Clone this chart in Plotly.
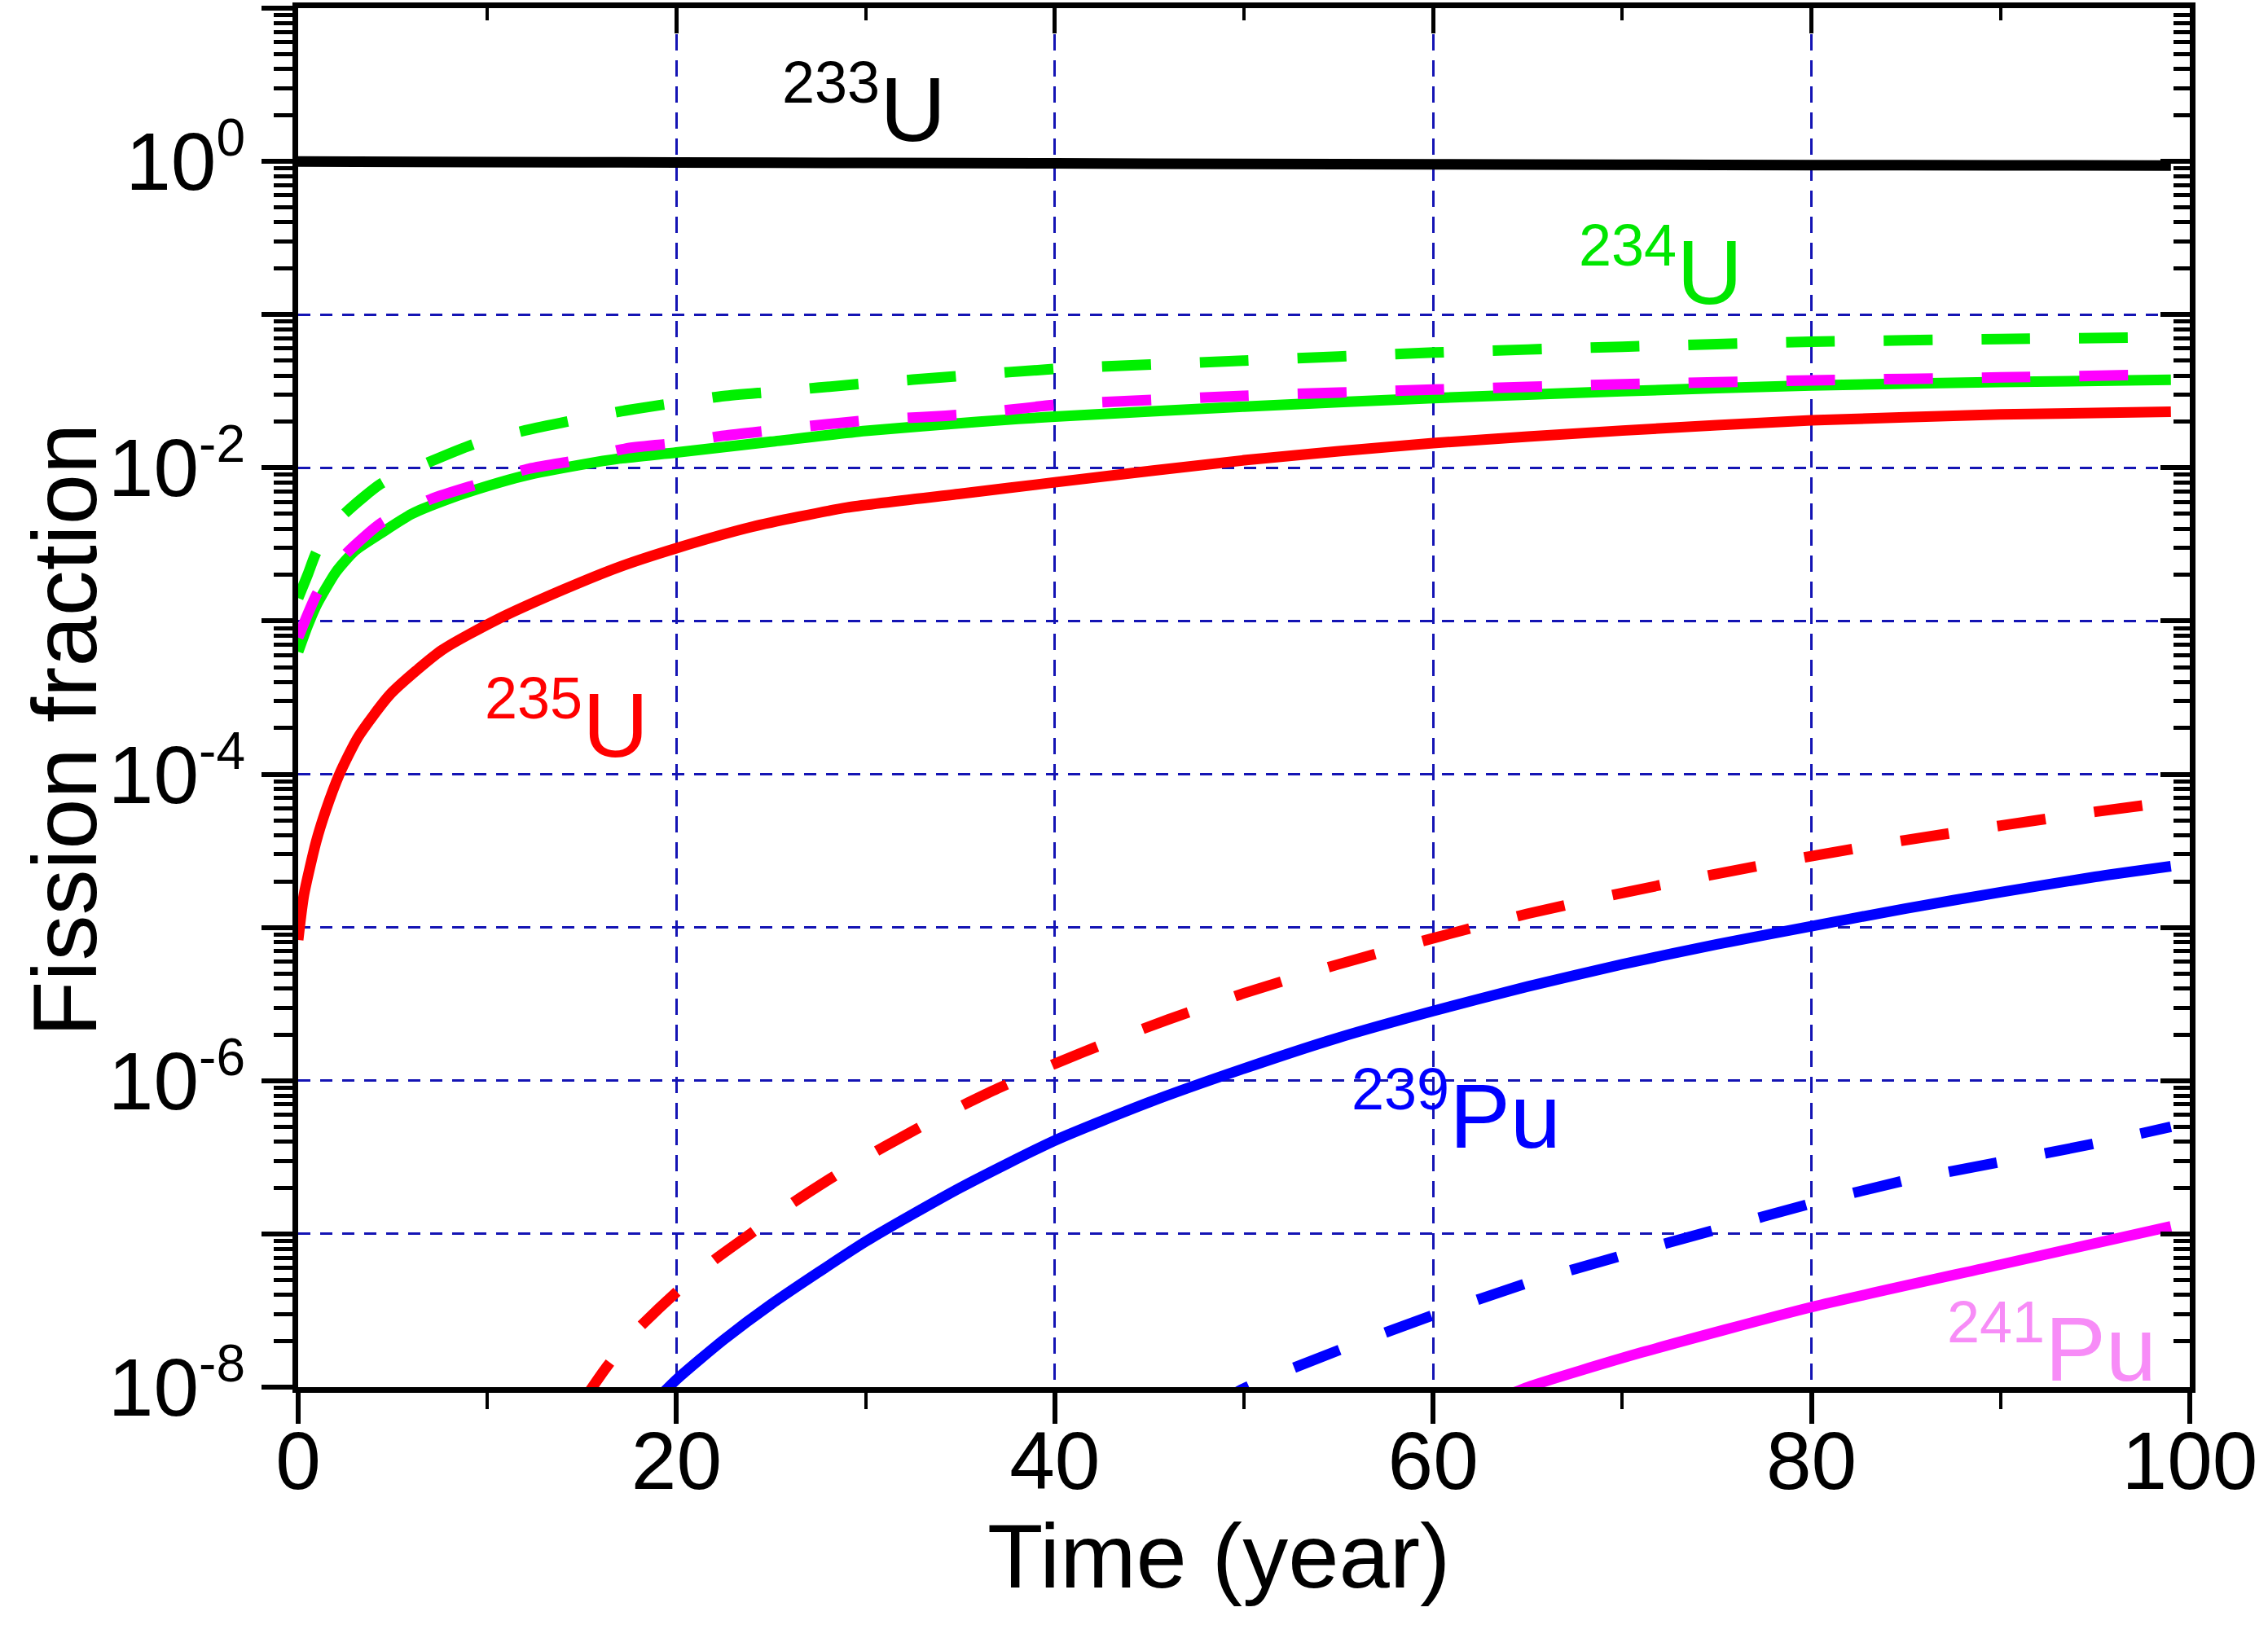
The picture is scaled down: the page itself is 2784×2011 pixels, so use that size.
import plotly.graph_objects as go

# ---------------- data ----------------
u233_x = [0, 10, 20, 30, 40, 50, 60, 70, 80, 90, 99]
u233_y = [0.999, 0.99, 0.984, 0.977, 0.970, 0.963, 0.957, 0.951, 0.946, 0.942, 0.939]

u234_x = [0, 0.5, 1, 2, 3, 4.4, 6, 8, 10, 12, 15, 17, 20, 25, 30, 36, 40, 50, 60, 70, 80, 90, 99]
u234_y = [6.3e-4, 9.3e-4, 1.29e-3, 2.09e-3, 2.88e-3, 3.76e-3, 5.0e-3, 6.3e-3, 7.6e-3, 8.9e-3,
          0.0105, 0.0115, 0.0126, 0.0148, 0.0174, 0.0200, 0.0216, 0.0251, 0.0285, 0.0316,
          0.0345, 0.0363, 0.0375]

u234d_x = [0, 0.5, 1, 2.3, 4.4, 7, 9.4, 12, 14.7, 17.3, 20, 22.5, 25, 30, 35, 40, 50, 60, 70, 80, 90, 99]
u234d_y = [1.41e-3, 2.0e-3, 2.88e-3, 4.8e-3, 7.9e-3, 0.0110, 0.01445, 0.01754, 0.0206, 0.02366,
           0.0266, 0.0294, 0.0313, 0.0355, 0.0398, 0.0442, 0.0501, 0.0565, 0.0617, 0.0665,
           0.0692, 0.0713]

pu241d_x = [0, 1, 2.3, 4.4, 7.1, 9.4, 12.1, 14.7, 17.3, 19.8, 22.5, 25, 27.7, 30.3, 32.9, 35.5,
            40, 50, 60, 70, 80, 90, 99]
pu241d_y = [7.8e-4, 1.51e-3, 2.57e-3, 4.37e-3, 6.3e-3, 7.76e-3, 9.8e-3, 0.0112, 0.01334, 0.01445,
            0.0162, 0.01754, 0.0191, 0.0205, 0.0214, 0.0224, 0.0257, 0.0295, 0.0324, 0.0351,
            0.0372, 0.0389, 0.0407]

u235_x = [0, 0.3, 0.94, 1.44, 2.18, 3.17, 4.9, 7.6, 10.5, 14, 17, 20, 24, 29, 35, 40, 50,
          60, 70, 80, 90, 99]
u235_y = [8.3e-6, 1.62e-5, 3.59e-5, 5.71e-5, 1.0e-4, 1.75e-4, 3.36e-4, 6.46e-4, 1.02e-3, 1.60e-3,
          2.26e-3, 2.99e-3, 4.12e-3, 5.50e-3, 6.76e-3, 8.04e-3, 0.0112, 0.0145, 0.0175, 0.0204,
          0.0223, 0.0232]

u235d_x = [15, 16.3, 17.8, 20, 22, 24, 26, 28.5, 31, 34, 37, 40, 43, 46, 50, 55, 60, 65, 70, 75,
           80, 85, 90, 95, 99]
u235d_y = [7.94e-9, 1.35e-8, 2.29e-8, 4.17e-8, 6.76e-8, 1.02e-7, 1.55e-7, 2.45e-7, 3.72e-7,
           5.89e-7, 8.91e-7, 1.29e-6, 1.82e-6, 2.51e-6, 3.72e-6, 5.75e-6, 8.51e-6, 1.23e-5,
           1.68e-5, 2.24e-5, 2.92e-5, 3.72e-5, 4.62e-5, 5.69e-5, 6.61e-5]

pu239_x = [18, 20, 22.5, 25, 30, 35, 40, 45, 50, 55, 60, 65, 70, 75, 80, 85, 90, 95, 99]
pu239_y = [6.31e-9, 1.12e-8, 2.04e-8, 3.47e-8, 8.91e-8, 2.0e-7, 4.07e-7, 7.24e-7, 1.20e-6,
           1.91e-6, 2.85e-6, 4.12e-6, 5.75e-6, 7.76e-6, 1.02e-5, 1.33e-5, 1.70e-5, 2.14e-5,
           2.51e-5]

pu239d_x = [48, 50, 55, 60, 65, 70, 75, 80, 85, 90, 95, 99]
pu239d_y = [7.1e-9, 9.8e-9, 1.74e-8, 2.95e-8, 4.79e-8, 7.24e-8, 1.07e-7, 1.58e-7, 2.24e-7,
            2.95e-7, 3.89e-7, 5.0e-7]

pu241_x = [63, 65, 71, 80, 90, 99]
pu241_y = [7.9e-9, 1.0e-8, 1.68e-8, 3.33e-8, 6.31e-8, 1.12e-7]

x_ticks = [0, 20, 40, 60, 80, 100]
x_minor = [10, 30, 50, 70, 90]
y_exponents = list(range(-8, 2))

# label texts: (mass number, element, color, left x, baseline log10 y)
labels = [
    ("233", "U", "black", 25.5, 0.155),
    ("234", "U", "#00e600", 67.6, -0.909),
    ("235", "U", "#ff0000", 9.78, -3.864),
    ("239", "Pu", "#0000ff", 55.6, -6.416),
    ("241", "Pu", "#f78cf7", 87.1, -7.937),
]

# ---------------- figure ----------------
FONT = "Liberation Sans, Arial, sans-serif"
GRID = "#1414b4"
GREEN = "#00f000"
RED = "#ff0000"
BLUE = "#0000ff"
MAGENTA = "#ff00ff"
LW = 13
DASH = "60px,60px"

fig = go.Figure()


def add(x, y, color, dash="solid"):
    fig.add_trace(go.Scatter(
        x=x, y=y, mode="lines",
        line=dict(color=color, width=LW, dash=dash, shape="spline", smoothing=0.6),
        showlegend=False, hoverinfo="skip"))


add(u233_x, u233_y, "black")
add(u234d_x, u234d_y, GREEN, DASH)
add(u234_x, u234_y, GREEN)
add(pu241d_x, pu241d_y, MAGENTA, DASH)
add(u235_x, u235_y, RED)
add(u235d_x, u235d_y, RED, DASH)
add(pu239_x, pu239_y, BLUE)
add(pu239d_x, pu239d_y, BLUE, DASH)
add(pu241_x, pu241_y, MAGENTA)

# invisible trace so the mirrored (top/right) axes exist
fig.add_trace(go.Scatter(x=[50], y=[1e-3], xaxis="x2", yaxis="y2", mode="markers",
                         marker=dict(opacity=0), showlegend=False, hoverinfo="skip"))

y_tickvals = [10.0 ** e for e in y_exponents]
y_ticktext = [("10<sup><span style='font-size:64px'>%d</span></sup>" % e) if (e % 2 == 0 and e <= 0) else ""
              for e in y_exponents]
y_minor = [k * 10.0 ** e for e in range(-8, 1) for k in range(2, 10)]

tickfont = dict(family=FONT, size=100, color="black")

fig.update_layout(
    width=2784, height=2011,
    margin=dict(l=366, r=96, t=10, b=308),
    paper_bgcolor="white", plot_bgcolor="white",
    xaxis=dict(
        range=[0, 100], showline=True, linewidth=7, linecolor="black",
        ticks="outside", ticklen=38, tickwidth=6, tickcolor="black",
        tickmode="array", tickvals=x_ticks, ticktext=[str(v) for v in x_ticks],
        tickfont=tickfont, ticklabelstandoff=-40,
        showgrid=True, gridcolor=GRID, gridwidth=3, griddash="20px,12px",
        zeroline=False,
        minor=dict(tickmode="array", tickvals=x_minor, ticks="outside", ticklen=20,
                   tickwidth=4, tickcolor="black", showgrid=False),
    ),
    xaxis2=dict(
        range=[0, 100], overlaying="x", side="top", anchor="y2", showline=True, linewidth=7,
        linecolor="black", ticks="inside", ticklen=31, tickwidth=5, tickcolor="black",
        tickmode="array", tickvals=x_ticks, showticklabels=False, showgrid=False, zeroline=False,
        minor=dict(tickmode="array", tickvals=x_minor, ticks="inside", ticklen=15,
                   tickwidth=4, tickcolor="black", showgrid=False),
    ),
    yaxis=dict(
        type="log", range=[-8, 1], showline=True, linewidth=7, linecolor="black",
        ticks="outside", ticklen=38, tickwidth=6, tickcolor="black",
        tickmode="array", tickvals=y_tickvals, ticktext=y_ticktext, tickfont=tickfont,
        ticklabelstandoff=0,
        showgrid=True, gridcolor=GRID, gridwidth=3, griddash="15px,12px", zeroline=False,
        minor=dict(tickmode="array", tickvals=y_minor, ticks="outside", ticklen=23,
                   tickwidth=5, tickcolor="black", showgrid=False),
    ),
    yaxis2=dict(
        type="log", range=[-8, 1], overlaying="y", side="right", anchor="x2", showline=True,
        linewidth=7, linecolor="black", ticks="inside", ticklen=36, tickwidth=6,
        tickcolor="black", tickmode="array", tickvals=y_tickvals, showticklabels=False,
        showgrid=False, zeroline=False,
        minor=dict(tickmode="array", tickvals=y_minor, ticks="inside", ticklen=20,
                   tickwidth=5, tickcolor="black", showgrid=False),
    ),
)

for mass, elem, color, lx, ly in labels:
    fig.add_annotation(x=lx, y=ly, xref="x", yref="y",
                       text="<sup><span style='font-size:72px'>%s</span></sup>%s" % (mass, elem),
                       showarrow=False, xanchor="left", yanchor="bottom", yshift=-30,
                       font=dict(family=FONT, size=112, color=color))

fig.add_annotation(x=0.4866, y=-0.1134, xref="paper", yref="paper", text="Time (year)",
                   showarrow=False, xanchor="center", yanchor="middle", yshift=-16,
                   font=dict(family=FONT, size=112, color="black"))
fig.add_annotation(x=-0.1232, y=0.4767, xref="paper", yref="paper", text="Fission fraction",
                   showarrow=False, xanchor="center", yanchor="middle", textangle=-90,
                   font=dict(family=FONT, size=112, color="black"))

fig.write_html("out.html")
